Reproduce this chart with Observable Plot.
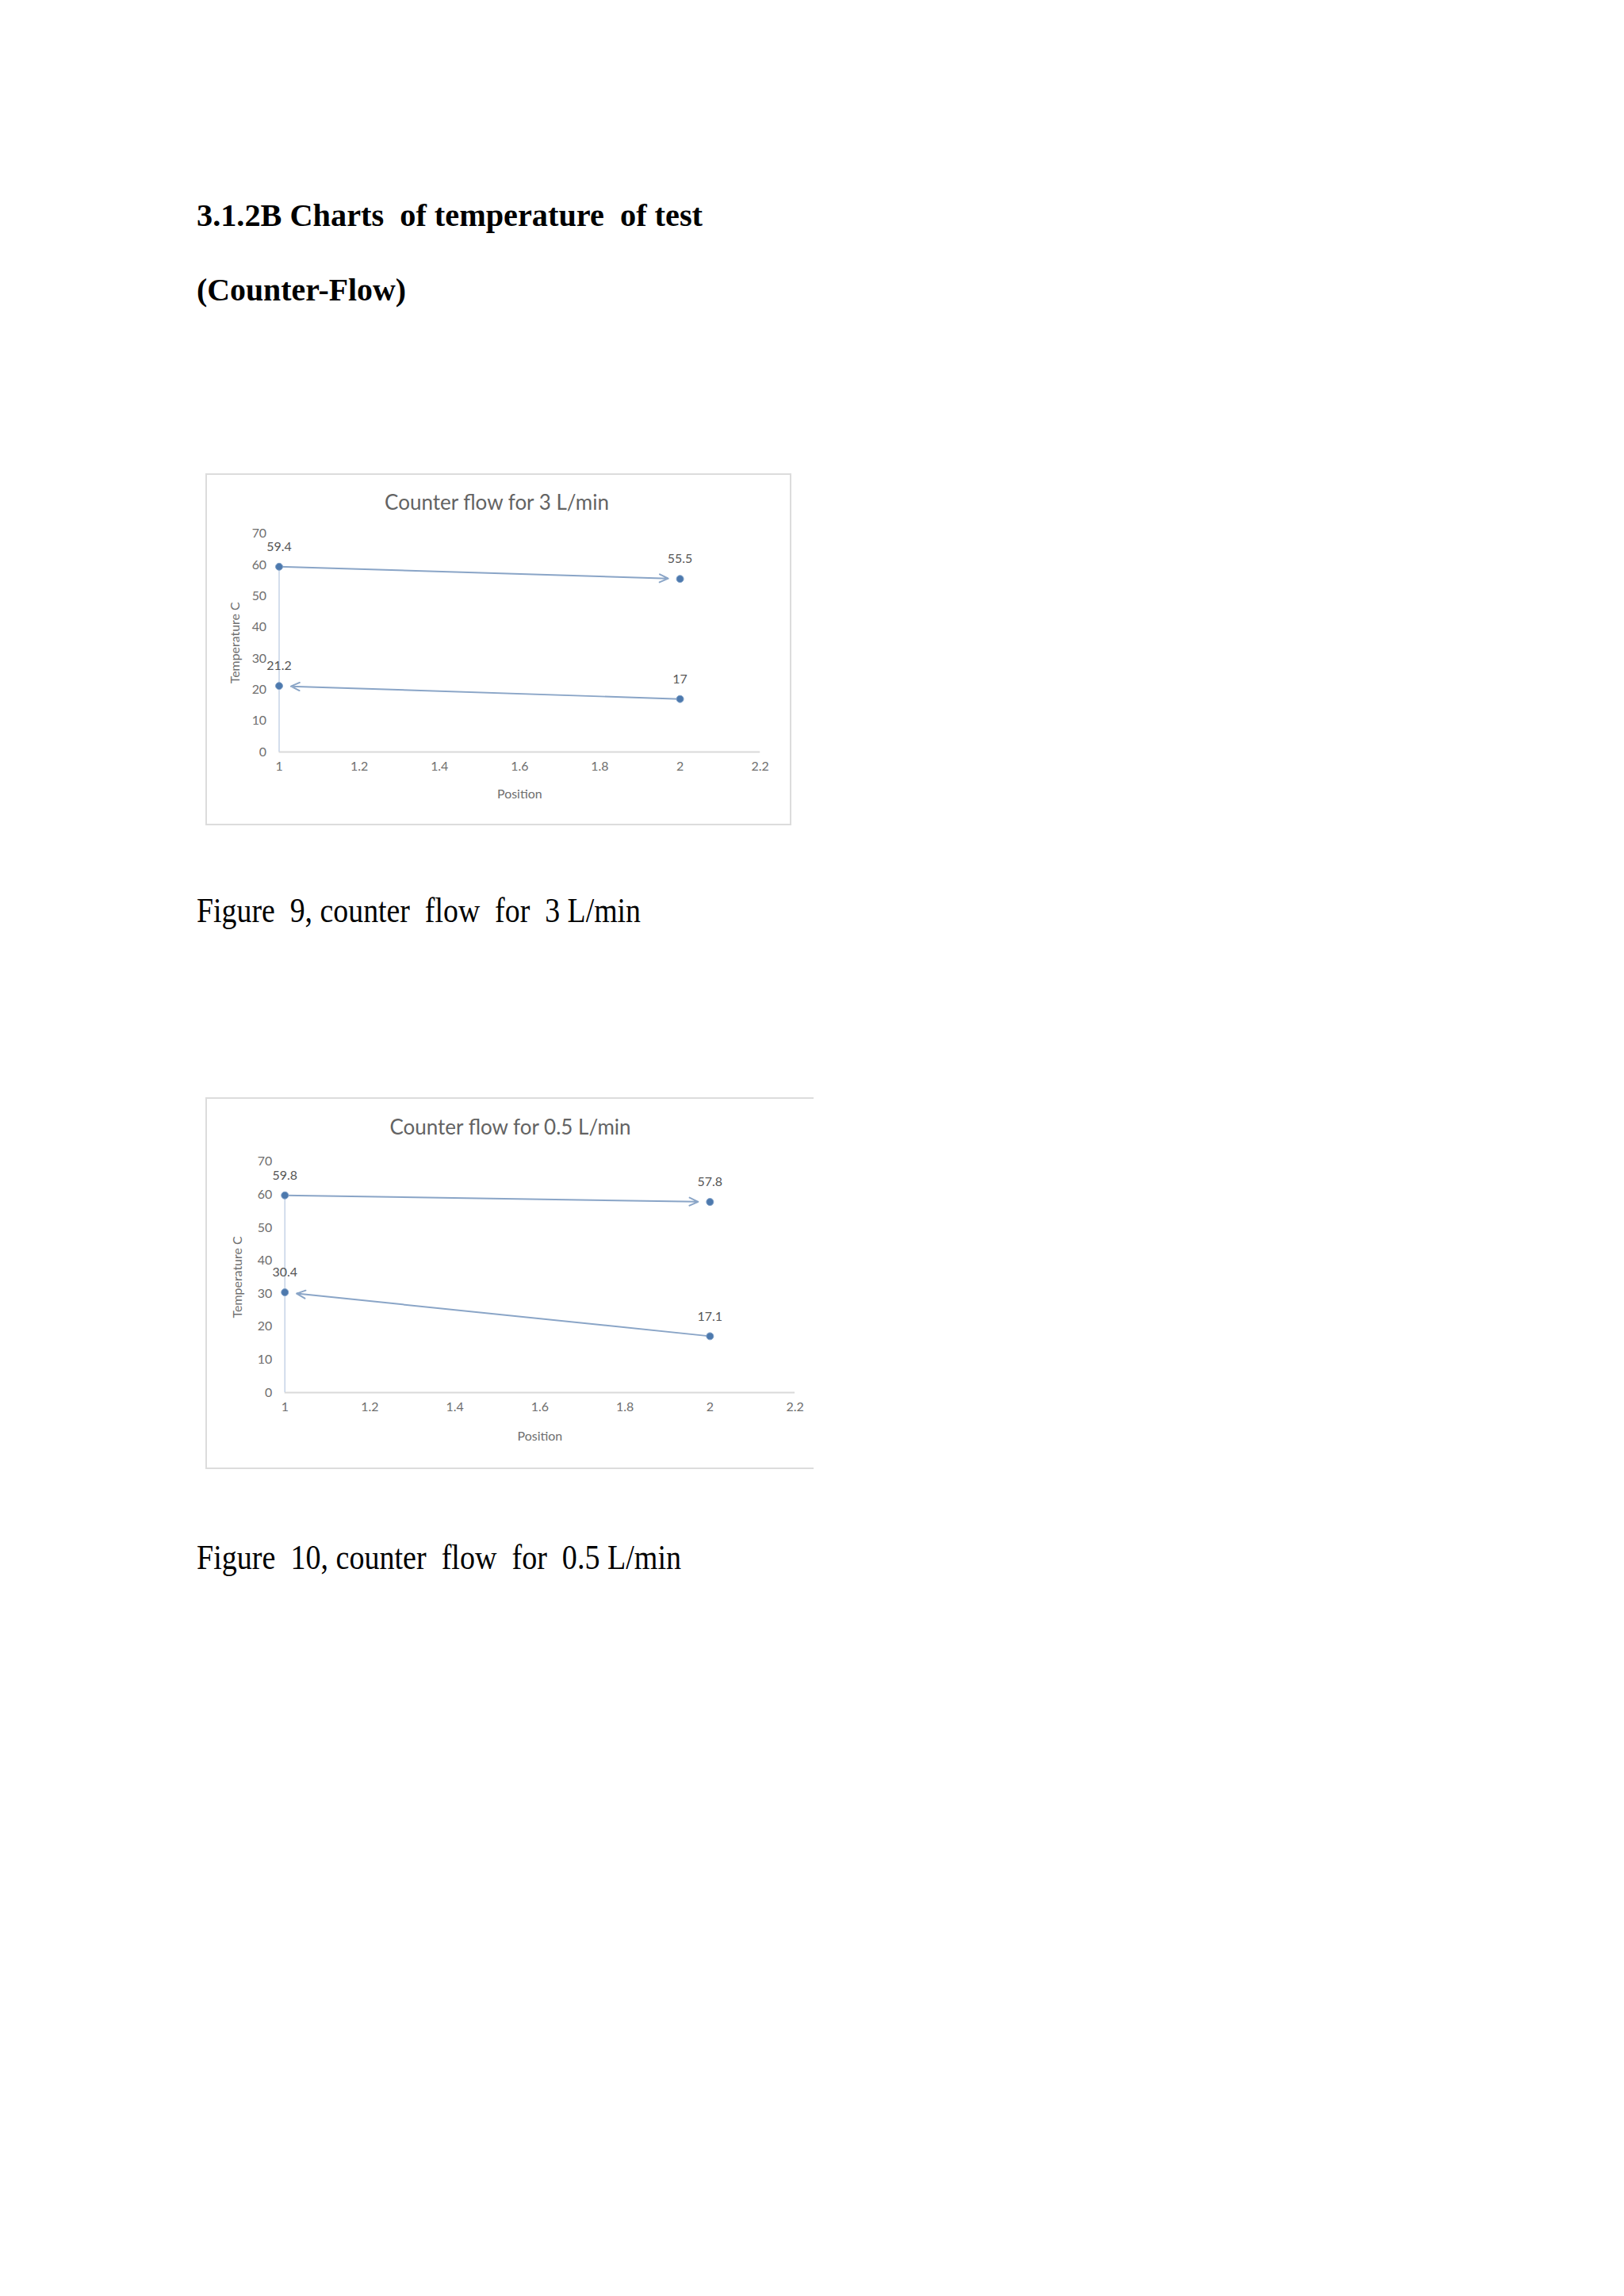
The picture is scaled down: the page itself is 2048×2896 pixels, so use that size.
<!DOCTYPE html>
<html>
<head>
<meta charset="utf-8">
<script src="https://cdn.jsdelivr.net/npm/d3@7"></script>
<script src="https://cdn.jsdelivr.net/npm/@observablehq/plot@0.6"></script>
<style>
  html, body { margin: 0; padding: 0; background: #ffffff; }
  #page { position: relative; width: 2048px; height: 2896px; background: #ffffff; overflow: hidden; }
  .doc { position: absolute; left: 248px; white-space: pre; color: #000; font-family: "Liberation Serif", "Times New Roman", serif; transform-origin: 0 0; line-height: 1; }
  .h { font-weight: bold; font-size: 39px; }
  .cap { font-size: 44px; }
  .box { position: absolute; border: 2px solid #dcdcdc; box-sizing: border-box; background: #fff; }
  .ctitle { position: absolute; left: 0; right: 0; text-align: center; font-family: Lato, "Open Sans", sans-serif; font-size: 26px; color: #636363; line-height: 1; }
  .box svg { position: absolute; left: 0; top: 0; }
</style>
</head>
<body>
<div id="page">
  <div class="doc h" id="h1" data-w="638" style="top:252px">3.1.2B Charts  of temperature  of test</div>
  <div class="doc h" id="h2" data-w="264" style="top:346px">(Counter-Flow)</div>
  <div class="doc cap" id="c1" data-w="560" style="top:1127px">Figure  9, counter  flow  for  3 L/min</div>
  <div class="doc cap" id="c2" data-w="611" style="top:1943px">Figure  10, counter  flow  for  0.5 L/min</div>
</div>
<script>
// ---- data ----
const positions = [1, 2];
const hot3 = [59.4, 55.5];
const cold3 = [21.2, 17];
const hot05 = [59.8, 57.8];
const cold05 = [30.4, 17.1];
const xTicks = [1, 1.2, 1.4, 1.6, 1.8, 2, 2.2];
const yTicks = [0, 10, 20, 30, 40, 50, 60, 70];
const titles = ["Counter flow for 3 L/min", "Counter flow for 0.5 L/min"];

const lineColor = "#8aa5c7";
const dotColor = "#4d79ad";
const tickColor = "#858585";

function makeChart(hot, cold, opt) {
  const pts = positions.flatMap((p, i) => [{x: p, y: hot[i]}, {x: p, y: cold[i]}]);
  const hotArrow = [{x1: positions[0], y1: hot[0], x2: positions[1], y2: hot[1]}];
  const coldArrow = [{x1: positions[1], y1: cold[1], x2: positions[0], y2: cold[0]}];
  return Plot.plot({
    width: opt.width,
    height: opt.height,
    marginLeft: opt.ml,
    marginRight: opt.mr,
    marginTop: opt.mt,
    marginBottom: opt.mb,
    style: {background: "transparent", fontFamily: "Lato, 'Open Sans', sans-serif", overflow: "visible"},
    x: {domain: [1, 2.2]},
    y: {domain: [0, 70]},
    marks: [
      Plot.ruleY([0], {x1: 1, x2: 2.2, stroke: "#d9d9d9", strokeWidth: 2}),
      Plot.ruleX([positions[0]], {y1: 0, y2: hot[0], stroke: "#c5d3e6", strokeWidth: 1.5}),
      Plot.axisX({ticks: xTicks, tickSize: 0, tickPadding: 12, fontSize: 16, color: tickColor, tickFormat: d => String(d), label: "Position", labelAnchor: "center", labelArrow: "none", labelOffset: opt.xlo}),
      Plot.axisY({ticks: yTicks, tickSize: 0, tickPadding: 16, fontSize: 16, color: tickColor, label: "Temperature C", labelAnchor: "center", labelArrow: "none", labelOffset: opt.ylo}),
      Plot.arrow(hotArrow, {x1: "x1", y1: "y1", x2: "x2", y2: "y2", stroke: lineColor, strokeWidth: 2, headLength: 9, headAngle: 50, insetEnd: 15}),
      Plot.arrow(coldArrow, {x1: "x1", y1: "y1", x2: "x2", y2: "y2", stroke: lineColor, strokeWidth: 2, headLength: 9, headAngle: 50, insetEnd: 15}),
      Plot.dot(pts, {x: "x", y: "y", r: 4.5, fill: dotColor, stroke: "#7fa0c8", strokeWidth: 1}),
      Plot.text(pts, {x: "x", y: "y", text: d => String(d.y), dy: -25, fontSize: 16, fill: "#555555"})
    ]
  });
}

function addChart(hot, cold, opt, title) {
  const box = document.createElement("div");
  box.className = "box";
  box.style.left = opt.left + "px";
  box.style.top = opt.top + "px";
  box.style.width = opt.width + "px";
  box.style.height = opt.height + "px";
  if (opt.noRight) box.style.borderRight = "none";
  const svg = makeChart(hot, cold, opt);
  box.appendChild(svg);
  // axis titles a little darker than tick labels
  svg.querySelectorAll("[aria-label$='label'] text, [aria-label='x-axis label'] text, [aria-label='y-axis label'] text").forEach(t => t.setAttribute("fill", "#6e6e6e"));
  const t = document.createElement("div");
  t.className = "ctitle";
  t.style.top = opt.titleTop + "px";
  t.style.left = opt.titleShift + "px";
  t.textContent = title;
  box.appendChild(t);
  document.getElementById("page").appendChild(box);
}

addChart(hot3, cold3, {left: 259, top: 597, width: 739, height: 444, ml: 91, mr: 38, mt: 74, mb: 93, xlo: 59, ylo: 62, titleTop: 21, titleShift: -4}, titles[0]);
addChart(hot05, cold05, {left: 259, top: 1384, width: 767, height: 469, ml: 98, mr: 24, mt: 79, mb: 98, xlo: 61, ylo: 66, titleTop: 22, titleShift: 0, noRight: true}, titles[1]);

// fit document text widths to the page layout
for (const el of document.querySelectorAll(".doc")) {
  const target = +el.dataset.w;
  const w = el.getBoundingClientRect().width;
  if (w > 0) el.style.transform = `scaleX(${target / w})`;
}
</script>
</body>
</html>
